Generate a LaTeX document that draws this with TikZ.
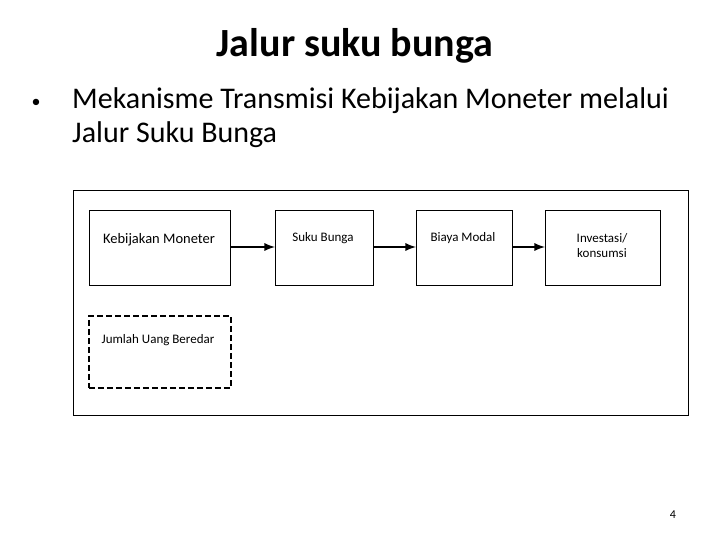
\documentclass[tikz,border=0pt]{standalone}
\usepackage{fontspec}
\setmainfont{Carlito}
\begin{document}
\begin{tikzpicture}[x=1pt,y=-1pt,
  bx/.style={draw,line width=0.8pt,anchor=north west,inner sep=0pt},
  lbl/.style={font=\fontsize{13}{15}\selectfont,align=center},
  arr/.style={line width=2.6pt,-latex}]
\useasboundingbox (0,0) rectangle (720,540);
\node[font=\fontsize{40}{44}\selectfont\bfseries] (title) at (355,46) {Jalur suku bunga};
\node (bul) at (36,103) {\fontsize{18}{22}\selectfont •};
\node[anchor=north west,align=left,font=\fontsize{30}{34}\selectfont,inner sep=0pt] (txt) at (72,87) {Mekanisme Transmisi Kebijakan Moneter melalui\\Jalur Suku Bunga};
\node[bx,minimum width=615,minimum height=225] (outer) at (73,190) {};
\node[bx,minimum width=141,minimum height=75] (b1) at (89,210) {};
\node[bx,minimum width=98,minimum height=75] (b2) at (275,210) {};
\node[bx,minimum width=96,minimum height=75] (b3) at (416,210) {};
\node[bx,minimum width=115,minimum height=75] (b4) at (545,210) {};
\node[bx,dash pattern=on 6pt off 3pt,line width=1.8pt,minimum width=142,minimum height=72] (b5) at (88,315) {};
\node[lbl,font=\fontsize{14.5}{17}\selectfont] (t1) at (159,240) {Kebijakan Moneter};
\node[lbl] (t2) at (323,238) {Suku Bunga};
\node[lbl] (t3) at (463,238) {Biaya Modal};
\node[lbl] (t4) at (602,246) {Investasi/\\konsumsi};
\node[lbl] (t5) at (158,340) {Jumlah Uang Beredar};
\draw[arr] (b1.east |- 0,247) -- (b2.west |- 0,247);
\draw[arr] (b2.east |- 0,247) -- (b3.west |- 0,247);
\draw[arr] (b3.east |- 0,247) -- (b4.west |- 0,247);
\node[font=\fontsize{12}{14}\selectfont] (pg) at (673,515) {4};
\end{tikzpicture}
\end{document}
